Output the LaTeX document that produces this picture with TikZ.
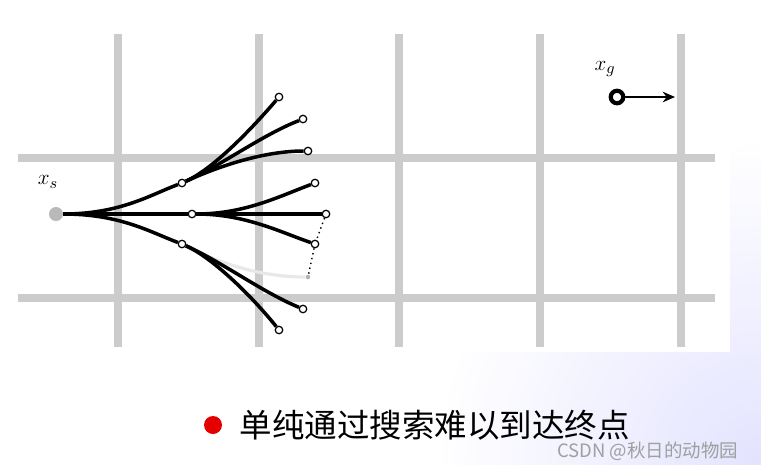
\documentclass[tikz,border=0pt]{standalone}
\usepackage{fontspec}
\newfontfamily\cjk{Noto Sans CJK SC}
\usetikzlibrary{arrows.meta, positioning}

\begin{document}
\begin{tikzpicture}[
        x=0.02cm, y=-0.02cm,
        gridline/.style={line width=4pt, gray!40},
        branch/.style={line width=2pt, black},
        faint/.style={line width=1.8pt, gray!18},
        leaf/.style={circle, draw, fill=white, line width=0.7pt, inner sep=0pt, minimum size=0.15cm},
        label/.style={font=\fontsize{13}{15}\selectfont, inner sep=0pt}
    ]
        \useasboundingbox (0,0) rectangle (761,464);
        % slide background
        \begin{scope}
            \clip (0,0) rectangle (761,464);
            \shade[inner color=blue!11, outer color=white] (761,464) circle (6.5cm);
        \end{scope}
        \fill[white] (0,0) rectangle (730,352);

        % grid
        \foreach \gx in {118,259,399,540,681}
            \draw[gridline] (\gx,34) -- (\gx,347);
        \foreach \gy in {158,298}
            \draw[gridline] (18,\gy) -- (715,\gy);

        % start and goal
        \node[circle, fill=gray!55, inner sep=0pt, minimum size=0.28cm] (start) at (56,214) {};
        \node[label] (xs) at (48,182) {$x_s$};
        \node[circle, draw, line width=2.4pt, inner sep=0pt, minimum size=0.25cm] (goal) at (617,97) {};
        \coordinate (heading) at (675,97);
        \node[label] (xg) at (605,69) {$x_g$};
        \draw[-{Stealth[length=7pt, width=6pt]}, line width=1.1pt] (goal) -- (heading);

        % first expansion
        \node[leaf] (up) at (182,183) {};
        \node[leaf] (mid) at (192,214) {};
        \node[leaf] (down) at (182,244) {};
        \draw[branch] (start) .. controls (120,214) and (150,195) .. (up);
        \draw[branch] (start) -- (mid);
        \draw[branch] (start) .. controls (120,214) and (150,232) .. (down);

        % second expansion
        \node[leaf] (l1) at (279,97) {};
        \node[leaf] (l2) at (303,119) {};
        \node[leaf] (l3) at (308,151) {};
        \node[leaf] (l4) at (315,183) {};
        \node[leaf] (l5) at (326,214) {};
        \node[leaf] (l6) at (315,244) {};
        \node[circle, fill=gray!60, inner sep=0pt, minimum size=0.09cm] (l7) at (308,277) {};
        \node[leaf] (l8) at (303,309) {};
        \node[leaf] (l9) at (279,330) {};

        \draw[faint] (down) .. controls (225,266) and (265,277) .. (l7);
        \draw[branch] (up) .. controls (215,168) and (255,125) .. (l1);
        \draw[branch] (up) .. controls (222,165) and (262,135) .. (l2);
        \draw[branch] (up) .. controls (228,162) and (270,151) .. (l3);
        \draw[branch] (mid) .. controls (245,214) and (280,196) .. (l4);
        \draw[branch] (mid) -- (l5);
        \draw[branch] (mid) .. controls (245,214) and (280,232) .. (l6);
        \draw[branch] (down) .. controls (222,262) and (262,292) .. (l8);
        \draw[branch] (down) .. controls (215,259) and (255,300) .. (l9);
        \draw[dotted, line width=0.8pt] (l5) -- (l6) -- (l7);

        % caption
        \node[circle, fill=red!90!black, inner sep=0pt, minimum size=0.36cm] (dot) at (213,425) {};
        \node[right=0.34cm of dot, inner sep=0pt, font=\cjk\fontsize{18.5}{20}\selectfont, text=black] (caption) {单纯通过搜索难以到达终点};
        \node[anchor=west, inner sep=0pt, font=\cjk\fontsize{10.5}{12}\selectfont, text=gray!75] (mark) at (557,451) {CSDN @秋日的动物园};
    \end{tikzpicture}
\end{document}
